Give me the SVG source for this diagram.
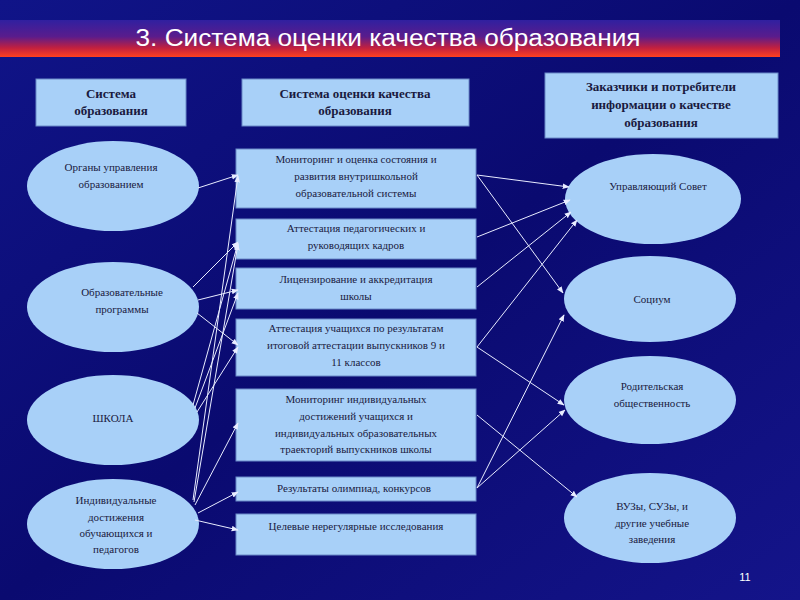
<svg xmlns="http://www.w3.org/2000/svg" width="800" height="600" viewBox="0 0 800 600">
<defs>
<linearGradient id="bg" x1="0" y1="0" x2="1" y2="1"><stop offset="0" stop-color="#101488"/><stop offset="0.5" stop-color="#0a0a70"/><stop offset="1" stop-color="#14148a"/></linearGradient>
<linearGradient id="tb" x1="0" y1="0" x2="0" y2="1"><stop offset="0" stop-color="#3020a0"/><stop offset="0.45" stop-color="#5a1c8c"/><stop offset="0.75" stop-color="#c02040"/><stop offset="1" stop-color="#ff4020"/></linearGradient>
<marker id="ar" viewBox="0 0 10 10" refX="9" refY="5" markerWidth="7" markerHeight="7" orient="auto"><path d="M0,1 L10,5 L0,9 z" fill="#e8ecff"/></marker>
<style>
.box{fill:#a8d0f8;stroke:#6a8ac8;stroke-width:1}
.el{fill:#a8d0f8}
.t{font-size:11px;fill:#1a1a40;text-anchor:middle}
.h{font-size:13px;font-weight:bold;fill:#1a1a40;text-anchor:middle}
.c line{stroke:#e8ecff;stroke-width:1;marker-end:url(#ar)}
</style>
</defs>
<rect width="800" height="600" fill="url(#bg)"/>
<rect x="0" y="20" width="780" height="37" fill="url(#tb)"/>
<text x="388" y="46" font-family="Liberation Sans,sans-serif" font-size="23" fill="#fff" text-anchor="middle" textLength="505" lengthAdjust="spacingAndGlyphs">3. Система оценки качества образования</text>
<g font-family="Liberation Serif, serif">
<g id="h1"><rect class="box" x="36" y="79" width="150" height="47"/><text class="h" x="111" y="98">Система</text><text class="h" x="111" y="115">образования</text></g>
<g id="h2"><rect class="box" x="242" y="79" width="227" height="47"/><text class="h" x="355" y="98">Система оценки качества</text><text class="h" x="355" y="115">образования</text></g>
<g id="h3"><rect class="box" x="545" y="73" width="233" height="65"/><text class="h" x="661" y="91">Заказчики и потребители</text><text class="h" x="661" y="109">информации о качестве</text><text class="h" x="661" y="127">образования</text></g>

<g id="e1"><ellipse class="el" cx="113" cy="186" rx="86" ry="45"/><text class="t" x="111" y="171">Органы управления</text><text class="t" x="111" y="188">образованием</text></g>
<g id="e2"><ellipse class="el" cx="113" cy="307" rx="86" ry="45"/><text class="t" x="122" y="296">Образовательные</text><text class="t" x="122" y="313">программы</text></g>
<g id="e3"><ellipse class="el" cx="113" cy="420" rx="86" ry="45"/><text class="t" x="113" y="422">ШКОЛА</text></g>
<g id="e4"><ellipse class="el" cx="113" cy="524" rx="86" ry="45"/><text class="t" x="116" y="504">Индивидуальные</text><text class="t" x="116" y="521">достижения</text><text class="t" x="116" y="537">обучающихся и</text><text class="t" x="116" y="553">педагогов</text></g>

<g id="m1"><rect class="box" x="236" y="149" width="240" height="59"/><text class="t" x="356" y="163">Мониторинг и оценка состояния и</text><text class="t" x="356" y="180">развития внутришкольной</text><text class="t" x="356" y="197">образовательной системы</text></g>
<g id="m2"><rect class="box" x="236" y="219" width="240" height="40"/><text class="t" x="356" y="232">Аттестация педагогических и</text><text class="t" x="356" y="249">руководящих кадров</text></g>
<g id="m3"><rect class="box" x="236" y="268" width="240" height="41"/><text class="t" x="356" y="283">Лицензирование и аккредитация</text><text class="t" x="356" y="300">школы</text></g>
<g id="m4"><rect class="box" x="236" y="319" width="240" height="57"/><text class="t" x="356" y="332">Аттестация учащихся по результатам</text><text class="t" x="356" y="349">итоговой аттестации выпускников 9 и</text><text class="t" x="356" y="366">11 классов</text></g>
<g id="m5"><rect class="box" x="236" y="389" width="240" height="72"/><text class="t" x="356" y="403">Мониторинг индивидуальных</text><text class="t" x="356" y="420">достижений учащихся и</text><text class="t" x="356" y="437">индивидуальных образовательных</text><text class="t" x="356" y="453">траекторий выпускников школы</text></g>
<g id="m6"><rect class="box" x="236" y="477" width="240" height="24"/><text class="t" x="354" y="492">Результаты олимпиад, конкурсов</text></g>
<g id="m7"><rect class="box" x="236" y="514" width="240" height="41"/><text class="t" x="356" y="530">Целевые нерегулярные исследования</text></g>

<g id="r1"><ellipse class="el" cx="653" cy="199" rx="88" ry="45"/><text class="t" x="658" y="190">Управляющий Совет</text></g>
<g id="r2"><ellipse class="el" cx="650" cy="299" rx="86" ry="43"/><text class="t" x="652" y="303">Социум</text></g>
<g id="r3"><ellipse class="el" cx="650" cy="400" rx="86" ry="44"/><text class="t" x="652" y="390">Родительская</text><text class="t" x="652" y="407">общественность</text></g>
<g id="r4"><ellipse class="el" cx="650" cy="518" rx="86" ry="45"/><text class="t" x="652" y="510">ВУЗы, СУЗы, и</text><text class="t" x="652" y="527">другие учебные</text><text class="t" x="652" y="543">заведения</text></g>
</g>
<g id="connectors" class="c">
<line x1="198" y1="188" x2="238" y2="175"/>
<line x1="193" y1="287" x2="238" y2="242"/>
<line x1="198" y1="300" x2="238" y2="290"/>
<line x1="197" y1="313" x2="238" y2="345"/>
<line x1="193" y1="405" x2="238" y2="243"/>
<line x1="195" y1="408" x2="238" y2="293"/>
<line x1="197" y1="412" x2="238" y2="347"/>
<line x1="193" y1="500" x2="238" y2="176"/>
<line x1="194" y1="502" x2="238" y2="244"/>
<line x1="195" y1="505" x2="238" y2="423"/>
<line x1="198" y1="513" x2="238" y2="492"/>
<line x1="195" y1="520" x2="238" y2="530"/>
<line x1="477" y1="175" x2="569" y2="187"/>
<line x1="477" y1="175" x2="563" y2="293"/>
<line x1="477" y1="237" x2="570" y2="200"/>
<line x1="477" y1="287" x2="571" y2="212"/>
<line x1="477" y1="347" x2="577" y2="220"/>
<line x1="477" y1="347" x2="564" y2="405"/>
<line x1="477" y1="415" x2="577" y2="497"/>
<line x1="477" y1="488" x2="564" y2="315"/>
<line x1="477" y1="488" x2="565" y2="410"/>
</g>
<text x="745" y="581" font-family="Liberation Sans,sans-serif" font-size="11" fill="#fff" text-anchor="middle">11</text>
</svg>
